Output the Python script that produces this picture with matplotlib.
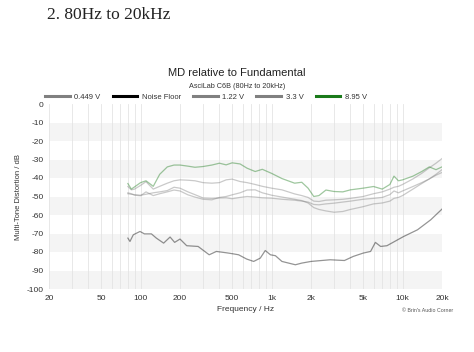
import numpy as np
import matplotlib
matplotlib.use('Agg')
import matplotlib.pyplot as plt
from matplotlib.lines import Line2D

# frequency points of the measured curves (Hz)
freq = [80, 85, 90, 100, 110, 125, 140, 160, 180, 200, 230, 260, 300, 350, 400, 450, 500,
        575, 650, 750, 850, 1000, 1200, 1500, 1700, 1900, 2100, 2300, 2600, 3000, 3500, 4000,
        5000, 6000, 7000, 8000, 8600, 9300, 10000, 12000, 14000, 16000, 18000, 20000]

v_895 = [-43, -46, -44.8, -42.5, -41.5, -44.5, -38, -34, -33, -33, -33.6, -34.2, -33.8, -33, -32,
         -32.9, -31.8, -32.4, -34.7, -36.5, -35.3, -37.5, -40.3, -42.8, -42.3, -45.5, -50, -49.5,
         -46.5, -47.3, -47.5, -46.4, -45.5, -44.6, -46, -43.5, -39, -41.5, -41, -39, -36.5, -34,
         -35.5, -34]
v_33 = [-44.6, -46.4, -46, -44, -42, -46, -44.5, -42.8, -41.5, -41, -41.2, -41.5, -42.5, -42.8,
        -42.5, -41, -40.6, -41.9, -42.5, -43.5, -44.5, -45.5, -46.4, -48.6, -49.5, -50.5, -52.5,
        -52.7, -52, -51.8, -51.5, -51, -50, -48.5, -47.5, -46, -45, -44.5, -43.5, -40.5, -37.5,
        -34.5, -32, -29.5]
v_122 = [-48.5, -48.8, -49, -49.3, -48.8, -48, -47.5, -46.8, -45, -45.5, -47.5, -49, -50.8, -51,
         -50.8, -50.7, -51.2, -50.5, -50, -50.3, -50.7, -50.9, -51.5, -52, -52.5, -53, -54.3, -54.5,
         -54, -53.6, -53, -52.5, -51.5, -51, -50.5, -49, -47, -48, -47, -44.6, -42.5, -40.5,
         -38.5, -37]
v_0449 = [-48, -48.5, -49.3, -49.6, -47.5, -49.5, -48.5, -47.5, -46.5, -47, -49.1, -50.3, -51.5,
          -51.8, -50.5, -50, -49.1, -48, -46.5, -46.4, -48, -49.3, -50.3, -51.5, -52.2, -53.5, -56,
          -57, -57.8, -58.5, -58.1, -57, -55.5, -54, -53.5, -52.5, -51, -50.5, -49.5, -46, -43,
          -40.5, -38, -35.5]

# noise floor has its own frequency points
freq_nf = [80, 83, 88, 99, 107, 121, 132, 150, 168, 182, 200, 225, 275, 334, 379, 460, 510, 560,
           645, 730, 820, 895, 980, 1070, 1200, 1350, 1520, 1700, 2000, 2800, 3600, 4200, 5000,
           5700, 6200, 6800, 7600, 10200, 13000, 16400, 20000]
noise = [-72.5, -74.3, -70.7, -68.9, -70.2, -70.2, -72.5, -75.2, -71.9, -74.8, -73, -76.6, -77,
         -81.5, -79.7, -80.5, -81, -81.5, -83.8, -85.1, -83.3, -79.2, -81.5, -82, -85.1, -86, -86.9,
         -86, -85.1, -84.2, -84.6, -82.4, -80.6, -79.7, -74.8, -77, -76.6, -71.6, -68, -62.6, -56.8]

labels = ['0.449 V', 'Noise Floor', '1.22 V', '3.3 V', '8.95 V']
colors = ['#808080', '#000000', '#808080', '#808080', '#1a7a1a']

xticks = [20, 50, 100, 200, 500, 1000, 2000, 5000, 10000, 20000]
xticklabels = ['20', '50', '100', '200', '500', '1k', '2k', '5k', '10k', '20k']
yticks = list(range(0, -101, -10))


def main():
    plt.rcParams['font.family'] = ['Liberation Sans', 'DejaVu Sans']
    plt.rcParams['axes.unicode_minus'] = False  # plain hyphens like the original
    fig = plt.figure(figsize=(4.74, 3.52), dpi=100)
    ax = fig.add_axes([49 / 474, 1 - 289 / 352, 393 / 474, 185 / 352])

    # alternating bands
    for lo in range(-20, -101, -20):
        ax.axhspan(lo, lo + 10, color='#f4f4f4', zorder=0, lw=0)

    a = 0.42
    ax.semilogx(freq_nf, noise, color=colors[1], alpha=a, lw=0.9)
    ax.semilogx(freq, v_0449, color=colors[0], alpha=a, lw=0.9)
    ax.semilogx(freq, v_122, color=colors[2], alpha=a, lw=0.9)
    ax.semilogx(freq, v_33, color=colors[3], alpha=a, lw=0.9)
    ax.semilogx(freq, v_895, color=colors[4], alpha=a, lw=0.9)

    ax.set_xlim(20, 20000)
    ax.set_ylim(-100, 0)
    ax.set_xticks(xticks)
    ax.set_xticklabels(xticklabels)
    ax.set_yticks(yticks)
    ax.tick_params(axis='both', length=0, labelsize=6, colors='#333333', pad=4)
    ax.tick_params(axis='x', which='minor', length=0)
    ax.grid(which='both', axis='x', color='#e4e4e4', lw=0.6)
    for s in ax.spines.values():
        s.set_visible(False)
    ax.set_axisbelow(True)

    ax.set_xlabel('Frequency / Hz', fontsize=6, color='#333333', labelpad=3)
    ax.set_ylabel('Multi-Tone Distortion / dB', fontsize=5.5, color='#333333', labelpad=3)

    # headings
    fig.text(47 / 474, 1 - 15 / 352, '2. 80Hz to 20kHz', family='Liberation Serif', fontsize=12.5,
             va='center', ha='left', color='#222222')
    fig.text(237 / 474, 1 - 73 / 352, 'MD relative to Fundamental', fontsize=8, ha='center',
             va='center', color='#222222')
    fig.text(237 / 474, 1 - 86 / 352, 'AsciLab C6B (80Hz to 20kHz)', fontsize=5.2, ha='center',
             va='center', color='#333333')
    fig.text(453 / 474, 1 - 311 / 352, "\u00a9 Brin's Audio Corner", fontsize=3.8, ha='right',
             va='center', color='#555555')

    handles = [Line2D([], [], color=c, lw=2.2) for c in colors]
    fig.legend(handles, labels, ncol=5, loc='center', bbox_to_anchor=(206 / 474, 1 - 97 / 352),
               frameon=False, fontsize=5.5, handlelength=3.2, handletextpad=0.6,
               columnspacing=1.6, labelcolor='#333333')

    fig.savefig('out.png', dpi=100)


if __name__ == "__main__":
    main()
